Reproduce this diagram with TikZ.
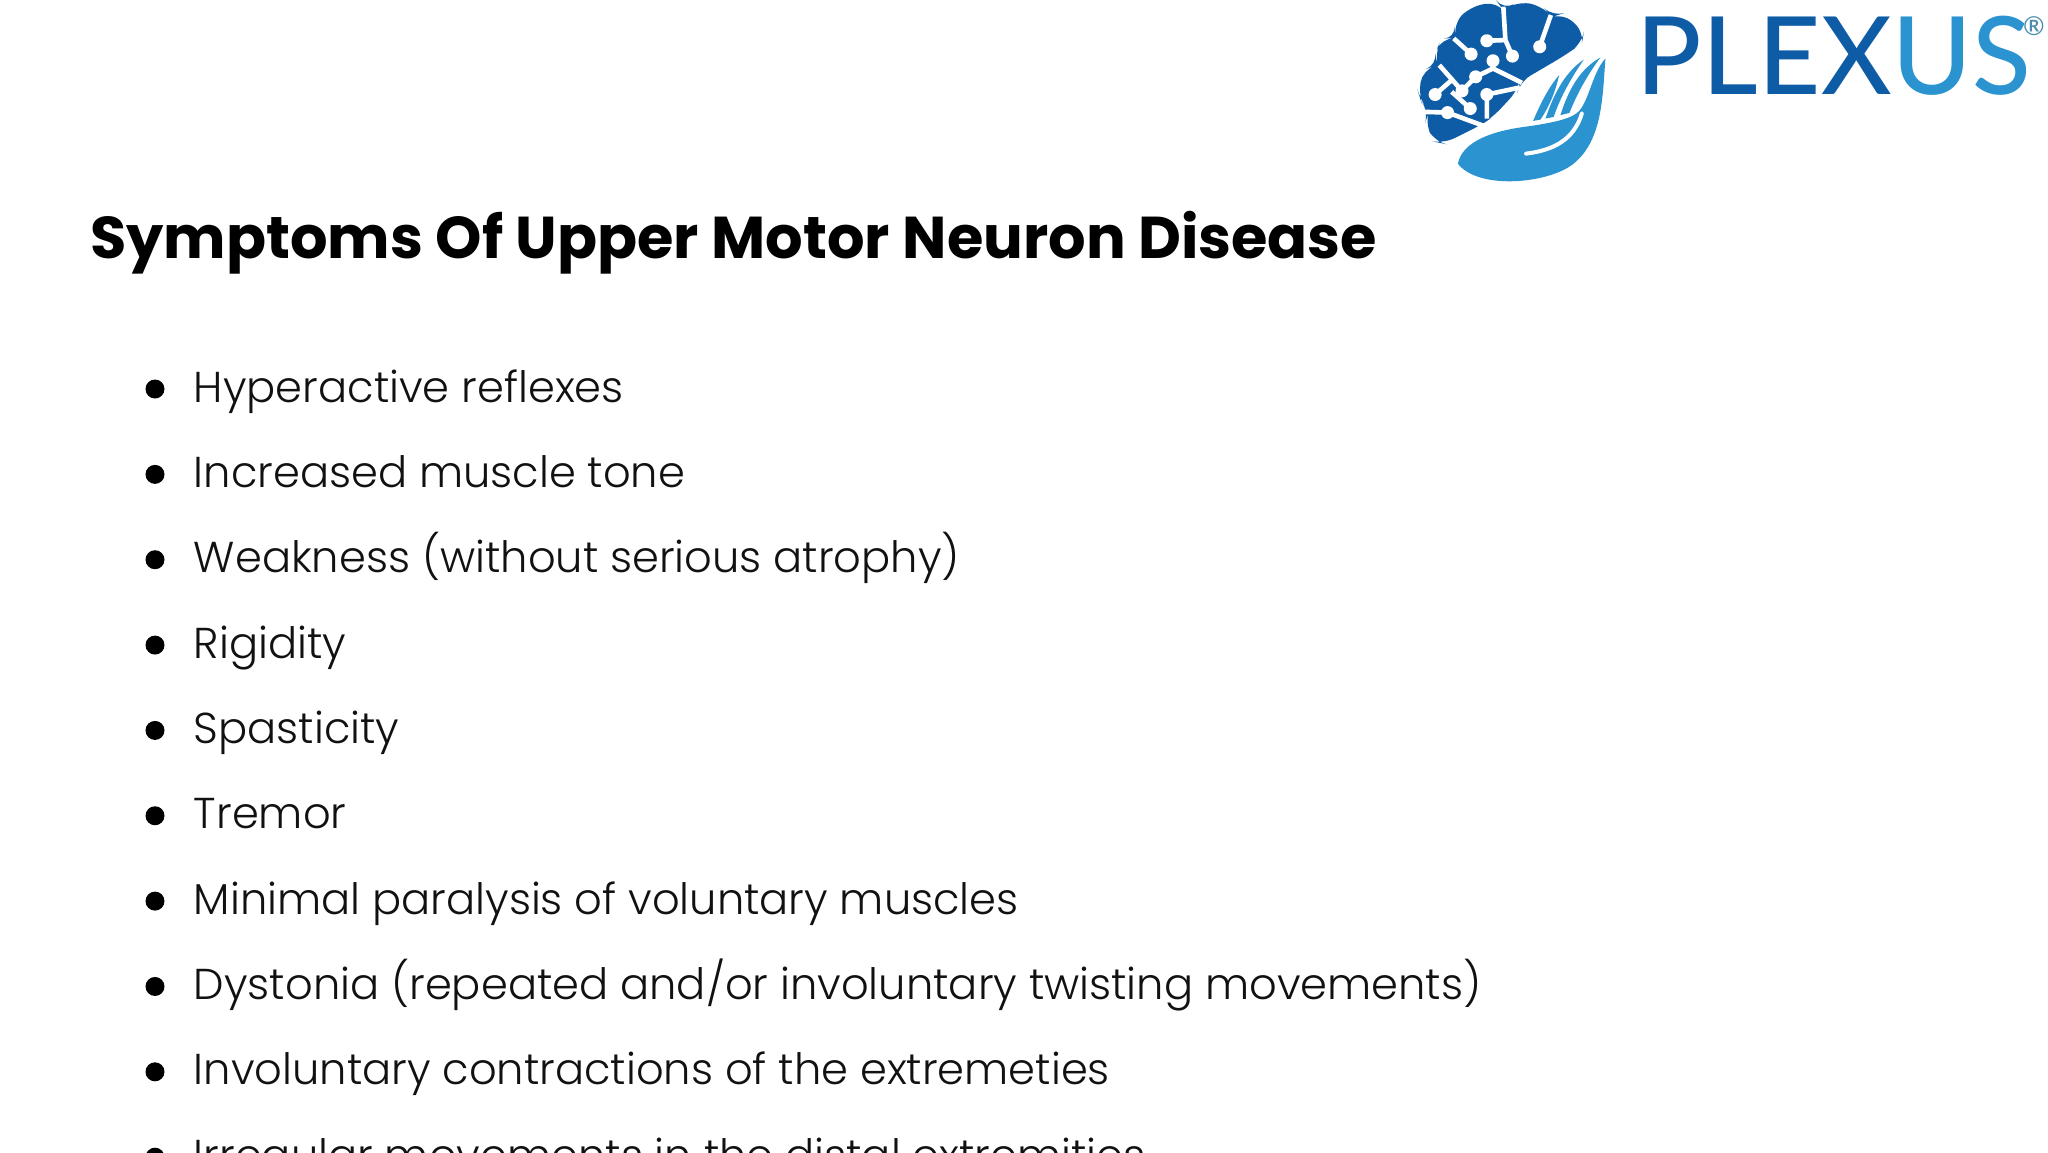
\documentclass[tikz,border=0pt]{standalone}
\usepackage{fontspec}
\setmainfont{Poppins}
\newfontfamily\itemfont{Poppins Light}
\newfontfamily\logofont[LetterSpace=0.6]{Lato Medium}
\usetikzlibrary{positioning}
\definecolor{plexdark}{HTML}{0F5CA6}
\definecolor{plexlight}{HTML}{2A93D0}
\definecolor{bodyink}{HTML}{111111}

\begin{document}
\begin{tikzpicture}[x=1pt,y=-1pt,node distance=85.35pt,
  headline/.style={anchor=base west,inner sep=0pt,font=\fontsize{59}{59}\selectfont\bfseries},
  itemdot/.style={circle,fill=black,inner sep=0pt,minimum size=19pt},
  itemtext/.style={inner sep=0pt,text height=26pt,text depth=0pt,text=bodyink,font=\itemfont\fontsize{43.2}{43}\selectfont},
  wire/.style={draw=white,line width=4.6pt,line join=round},
  pad/.style={circle,fill=white,inner sep=0pt,minimum size=13pt}]
\useasboundingbox (0,0) rectangle (2048,1152);
\clip (0,0) rectangle (2048,1152);

\node[headline] (title) at (90,258) {Symptoms Of Upper Motor Neuron Disease};

\node[itemdot] (d0) at (155,389) {};
\node[itemdot] (d1) [below of=d0] {};
\node[itemdot] (d2) [below of=d1] {};
\node[itemdot] (d3) [below of=d2] {};
\node[itemdot] (d4) [below of=d3] {};
\node[itemdot] (d5) [below of=d4] {};
\node[itemdot] (d6) [below of=d5] {};
\node[itemdot] (d7) [below of=d6] {};
\node[itemdot] (d8) [below of=d7] {};
\node[itemdot] (d9) [below of=d8] {};

\node[itemtext] (t0) [right=29pt of d0] {Hyperactive reflexes};
\node[itemtext] (t1) [right=29pt of d1] {Increased muscle tone};
\node[itemtext] (t2) [right=29pt of d2] {Weakness (without serious atrophy)};
\node[itemtext] (t3) [right=29pt of d3] {Rigidity};
\node[itemtext] (t4) [right=29pt of d4] {Spasticity};
\node[itemtext] (t5) [right=29pt of d5] {Tremor};
\node[itemtext] (t6) [right=29pt of d6] {Minimal paralysis of voluntary muscles};
\node[itemtext] (t7) [right=29pt of d7] {Dystonia (repeated and/or involuntary twisting movements)};
\node[itemtext] (t8) [right=29pt of d8] {Involuntary contractions of the extremeties};
\node[itemtext] (t9) [right=29pt of d9] {Irregular movements in the distal extremities};

% logo, in crop coordinates
\begin{scope}[shift={(1400,0)},x=0.4133pt,y=-0.334pt]
\fill[plexdark,rounded corners=12pt] (45,280) -- (55,210) -- (90,195) -- (85,160) -- (100,115) -- (135,115)
  -- (130,70) -- (170,20) -- (235,5) -- (250,30) -- (290,3) -- (345,20) -- (370,50) -- (395,40) -- (445,95)
  -- (440,130) -- (400,165) -- (290,245) -- (285,270) -- (225,350) -- (195,375) -- (105,430) -- (85,425)
  -- (60,370) -- (70,335) -- (50,300) -- cycle;
\draw[wire] (250,20) -- (255,120) -- (272,168);
\draw[wire] (210,122) -- (255,120);
\draw[wire] (130,115) -- (172,162);
\draw[wire] (365,45) -- (338,140);
\draw[wire] (295,248) -- (225,205) -- (225,182);
\draw[wire] (225,205) -- (183,230) -- (150,272) -- (95,195);
\draw[wire] (85,283) -- (125,240);
\draw[wire] (290,262) -- (210,283) -- (210,355);
\draw[wire] (60,335) -- (115,337) -- (205,378);
\draw[wire] (170,325) -- (125,275);
\foreach \px/\py in {338/140,210/122,272/168,172/162,225/182,183/230,150/272,85/283,210/283,170/325,115/337}
  \node[pad] at (\px,\py) {};
\fill[plexlight] (140,490) .. controls (150,430) and (210,395) .. (300,380)
  .. controls (370,368) and (420,355) .. (435,330) .. controls (460,290) and (465,220) .. (497,175)
  .. controls (490,290) and (490,420) .. (420,490) .. controls (360,550) and (190,570) .. (140,490) -- cycle;
\draw[white,line width=4pt,line cap=round] (305,460) .. controls (370,450) and (420,420) .. (440,340);
\fill[plexlight] (322,362) .. controls (340,310) and (360,260) .. (385,225) .. controls (375,280) and (360,320) .. (340,358) -- cycle;
\fill[plexlight] (352,355) .. controls (370,290) and (395,220) .. (445,178) .. controls (410,240) and (385,300) .. (372,350) -- cycle;
\fill[plexlight] (388,345) .. controls (405,280) and (430,210) .. (485,172) .. controls (450,230) and (425,290) .. (410,338) -- cycle;
\end{scope}

\node[inner sep=0pt,anchor=base west,font=\logofont\fontsize{108}{108}\selectfont] (brand) at (1636,94)
  {\textcolor{plexdark}{PLEX}\textcolor{plexlight}{US}};
\node[inner sep=0pt,anchor=center,text=plexlight!60!gray,font=\logofont\fontsize{26}{26}\selectfont] (regmark) at (2034,26) {®};
\end{tikzpicture}
\end{document}
